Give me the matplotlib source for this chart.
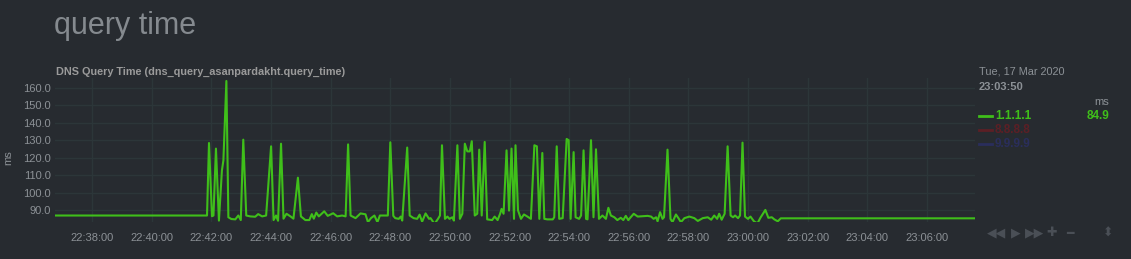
import numpy as np
import matplotlib
matplotlib.use("Agg")
import matplotlib.pyplot as plt
from matplotlib.ticker import FuncFormatter, MultipleLocator

plt.rcParams['font.family'] = ['Liberation Sans', 'DejaVu Sans']

# seconds after 22:38:00 and query time in ms
t_sec = [-75, 231, 235, 241, 244, 249, 255, 261, 264, 270, 274, 280, 288, 294, 299,
         304, 310, 318, 328, 334, 342, 350, 360, 365, 370, 374, 380, 385, 391, 399,
         405, 414, 420, 429, 437, 442, 446, 451, 456, 467, 474, 485, 493, 503, 510,
         515, 520, 530, 540, 550, 555, 561, 568, 574, 579, 590, 595, 600, 606, 610,
         617, 621, 624, 634, 639, 647, 654, 659, 664, 671, 678, 681, 689, 696, 700,
         704, 710, 715, 719, 725, 728, 735, 740, 745, 750, 755, 760, 764, 770, 775,
         779, 784, 790, 795, 805, 810, 816, 821, 824, 828, 834, 839, 844, 849, 852,
         857, 863, 869, 876, 883, 890, 895, 900, 906, 910, 916, 927, 930, 935, 940,
         947, 955, 959, 963, 969, 973, 980, 984, 989, 994, 997, 1004, 1009, 1014, 1020,
         1027, 1034, 1039, 1044, 1051, 1057, 1064, 1069, 1074, 1079, 1090, 1098, 1118, 1125, 1130,
         1135, 1138, 1143, 1148, 1151, 1158, 1164, 1168, 1175, 1180, 1185, 1192, 1202, 1212, 1219,
         1229, 1239, 1246, 1252, 1258, 1262, 1267, 1273, 1279, 1285, 1290, 1294, 1300, 1304, 1309,
         1314, 1320, 1325, 1332, 1339, 1345, 1355, 1361, 1368, 1373, 1380, 1386, 1777]
ms = [87.0, 87.0, 128.4, 86.6, 87.0, 125.2, 84.1, 112.7, 118.5, 163.8, 86.0, 85.0, 84.8, 87.0, 84.4,
      130.3, 87.0, 86.5, 86.3, 87.8, 86.5, 87.0, 126.5, 84.4, 87.0, 84.0, 128.0, 85.2, 88.0, 86.5,
      85.2, 108.6, 86.5, 84.4, 84.4, 87.8, 85.2, 88.7, 86.5, 89.4, 86.8, 88.3, 86.5, 87.0, 86.5,
      127.6, 87.0, 85.5, 88.2, 87.7, 83.2, 85.5, 87.0, 83.2, 87.0, 87.0, 87.0, 128.8, 86.8, 85.5,
      85.1, 86.4, 84.1, 125.8, 87.0, 85.5, 85.1, 87.5, 83.5, 88.2, 85.1, 85.5, 82.2, 85.1, 87.0,
      127.1, 85.1, 86.4, 85.1, 86.0, 84.1, 127.1, 85.1, 88.0, 128.0, 123.6, 123.6, 129.4, 87.0, 88.0,
      124.6, 87.0, 129.0, 84.8, 84.4, 86.4, 84.4, 88.0, 90.8, 88.0, 124.2, 89.8, 125.2, 85.1, 127.1,
      90.0, 85.1, 87.6, 86.4, 85.1, 127.1, 126.5, 85.1, 122.7, 85.1, 84.8, 84.8, 86.0, 126.5, 85.1,
      85.5, 130.7, 130.0, 85.1, 123.2, 86.0, 85.1, 87.0, 124.2, 85.1, 84.8, 130.0, 86.0, 124.8, 85.1,
      87.0, 85.1, 91.4, 87.0, 86.0, 84.4, 85.7, 84.4, 86.8, 84.4, 88.0, 86.4, 86.8, 86.4, 85.1,
      86.0, 83.7, 88.9, 85.1, 86.0, 124.6, 85.1, 83.2, 87.6, 85.5, 83.2, 85.5, 86.4, 85.5, 83.9,
      85.5, 86.0, 84.6, 87.0, 85.1, 88.0, 84.6, 88.0, 126.5, 87.0, 86.0, 87.0, 85.5, 87.0, 128.6,
      86.4, 85.1, 86.4, 83.7, 82.5, 85.7, 90.2, 85.7, 86.0, 84.8, 83.7, 85.4, 85.4]

series = ['1.1.1.1', '8.8.8.8', '9.9.9.9']
series_colors = ['#3fbf1a', '#5c1f25', '#2a2e5c']
last_value = '84.9'

bg = '#272b30'
grid_c = '#2c3639'
text_c = '#8c9196'

fig = plt.figure(figsize=(11.31, 2.59), dpi=100, facecolor=bg)
ax = fig.add_axes([55 / 1131, 1 - 222 / 259, 920 / 1131, 144 / 259])
ax.set_facecolor(bg)

ax.plot(t_sec, ms, color=series_colors[0], lw=1.5, solid_joinstyle='round')

ax.set_xlim(-75, 1777)
ax.set_ylim(83.3, 165.5)
ax.yaxis.set_major_locator(MultipleLocator(10))
ax.xaxis.set_major_locator(MultipleLocator(120))


def fmt_time(x, pos):
    s = int(round(x)) + 22 * 3600 + 38 * 60
    return f"{s // 3600:02d}:{(s % 3600) // 60:02d}:{s % 60:02d}"


ax.xaxis.set_major_formatter(FuncFormatter(fmt_time))
ax.yaxis.set_major_formatter(FuncFormatter(lambda v, p: f"{v:.1f}"))
ax.grid(True, color=grid_c, lw=1)
ax.set_axisbelow(True)
for sp in ax.spines.values():
    sp.set_visible(False)
ax.tick_params(length=0, colors=text_c, labelsize=8)
ax.tick_params(axis='y', pad=3)
ax.tick_params(axis='x', pad=8)

fig.text(8 / 1131, 1 - 158 / 259, 'ms', rotation=90, color=text_c, fontsize=8,
         ha='center', va='center')
fig.text(54 / 1131, 1 - 26 / 259, 'query time', color='#858a8f', fontsize=22,
         ha='left', va='center')
fig.text(56 / 1131, 1 - 72 / 259, 'DNS Query Time (dns_query_asanpardakht.query_time)',
         color='#9a9a9a', fontsize=7.85, fontweight='bold', ha='left', va='center')

# legend panel on the right
fig.text(979 / 1131, 1 - 72 / 259, 'Tue, 17 Mar 2020', color=text_c, fontsize=7.8,
         ha='left', va='center')
fig.text(979 / 1131, 1 - 87 / 259, '23:03:50', color=text_c, fontsize=8,
         fontweight='bold', ha='left', va='center')
fig.text(1109 / 1131, 1 - 102 / 259, 'ms', color=text_c, fontsize=8,
         ha='right', va='center')
for i, (name, col) in enumerate(zip(series, series_colors)):
    yy = 1 - (116 + i * 14) / 259
    fig.add_artist(plt.Line2D([979 / 1131, 992 / 1131], [yy, yy], color=col, lw=2,
                              transform=fig.transFigure))
    fig.text(995 / 1131, yy, name, color=col, fontsize=8.5, fontweight='bold',
             ha='left', va='center')
fig.text(1109 / 1131, 1 - 116 / 259, last_value, color=series_colors[0], fontsize=8.5,
         fontweight='bold', ha='right', va='center')

# navigation buttons
btn_c = '#4a4f56'
for x, s in [(997, '\u25c0\u25c0'), (1016, '\u25b6'), (1035, '\u25b6\u25b6'),
             (1052, '\u271a'), (1070, '\u2501'), (1108, '\u2b0d')]:
    fig.text(x / 1131, 1 - 233 / 259, s, color=btn_c, fontsize=9,
             family=['DejaVu Sans'], ha='center', va='center')

fig.savefig('out.png', dpi=100, facecolor=bg)
